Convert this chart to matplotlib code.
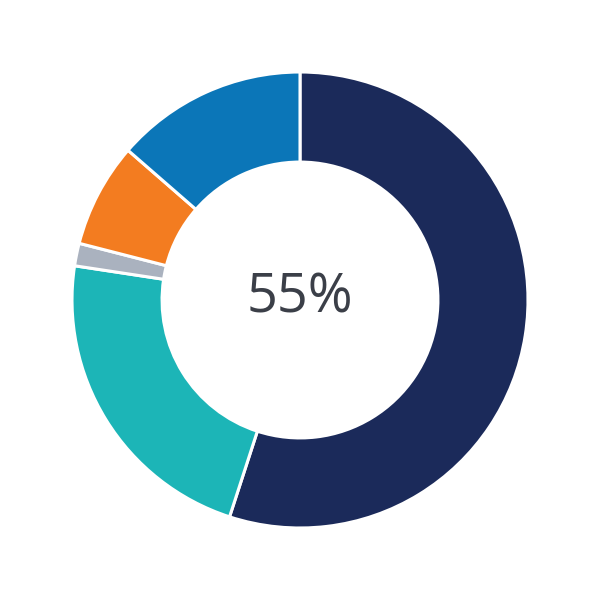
import matplotlib
matplotlib.use("Agg")
import matplotlib.pyplot as plt

labels = ["Navy", "Teal", "Gray", "Orange", "Blue"]
values = [55.0, 22.4, 1.6, 7.4, 13.6]
colors = ["#1b2a5a", "#1cb5b7", "#aab2bf", "#f37c20", "#0b76b8"]
center_text = "55%"

fig = plt.figure(figsize=(6, 6), dpi=100)
ax = fig.add_axes([0, 0, 1, 1])
ax.pie(values, colors=colors, startangle=90, counterclock=False, radius=1.0,
       wedgeprops=dict(width=0.395, edgecolor="white", linewidth=2.2))
lim = 300 / 228
ax.set_xlim(-lim, lim)
ax.set_ylim(-lim, lim)
ax.set_aspect("equal")
ax.axis("off")
ax.text(0, 0.01, center_text, ha="center", va="center", fontsize=39,
        color="#3b3f48", family=["Open Sans", "DejaVu Sans"])
fig.savefig("out.png", dpi=100)
